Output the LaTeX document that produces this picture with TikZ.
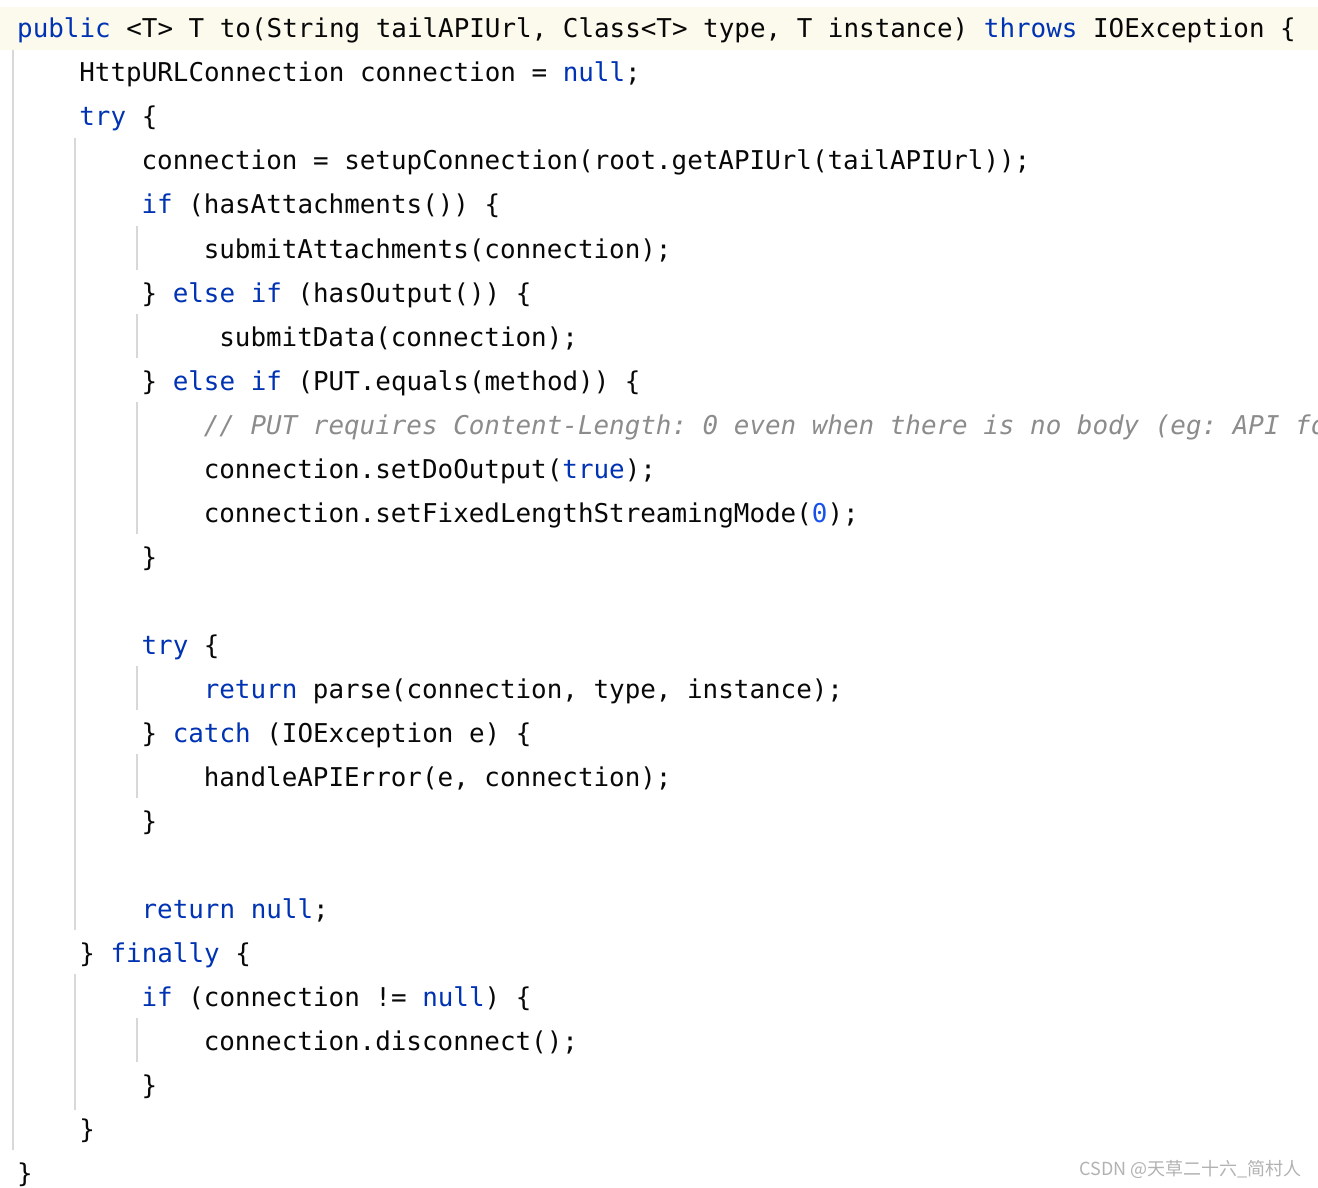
\documentclass[tikz,border=0pt]{standalone}
\usepackage{fontspec}
\setmonofont{DejaVu Sans Mono}
\newfontfamily\cjkf{Noto Sans CJK SC}
\definecolor{kwc}{HTML}{0033B3}
\definecolor{cmc}{HTML}{8C8C8C}
\definecolor{numc}{HTML}{1750EB}
\definecolor{txc}{HTML}{080808}
\definecolor{guide}{HTML}{D8D8D8}
\definecolor{hl}{HTML}{FCFAED}
\newcommand{\kw}[1]{\textcolor{kwc}{#1}}
\newcommand{\nmb}[1]{\textcolor{numc}{#1}}
\begin{document}
\begin{tikzpicture}[x=1pt,y=-1pt,
  code/.style={anchor=base west,inner sep=0pt,font=\fontsize{25.9}{30}\ttfamily,text=txc},
  gl/.style={draw=guide,line width=1.5pt}]
\useasboundingbox (0,0) rectangle (1318,1188);
\clip (0,0) rectangle (1318,1188);
\fill[hl] (0,7) rectangle (1318,50);
% indent guides
\draw[gl] (13,50) -- (13,1150);
\draw[gl] (75,138) -- (75,930);
\draw[gl] (75,974) -- (75,1110);
\draw[gl] (137,226) -- (137,270);
\draw[gl] (137,314) -- (137,358);
\draw[gl] (137,402) -- (137,534);
\draw[gl] (137,666) -- (137,710);
\draw[gl] (137,754) -- (137,798);
\draw[gl] (137,1018) -- (137,1062);
\def\cw{15.55}
\newcommand{\cl}[4]{\node[code] (#1) at ({17+\cw*#2},{38+44*#3}) {#4};}
\cl{l0}{0}{0}{\kw{public} <T> T to(String tailAPIUrl, Class<T> type, T instance) \kw{throws} IOException \{}
\cl{l1}{4}{1}{HttpURLConnection connection = \kw{null};}
\cl{l2}{4}{2}{\kw{try} \{}
\cl{l3}{8}{3}{connection = setupConnection(root.getAPIUrl(tailAPIUrl));}
\cl{l4}{8}{4}{\kw{if} (hasAttachments()) \{}
\cl{l5}{12}{5}{submitAttachments(connection);}
\cl{l6}{8}{6}{\} \kw{else} \kw{if} (hasOutput()) \{}
\cl{l7}{13}{7}{submitData(connection);}
\cl{l8}{8}{8}{\} \kw{else} \kw{if} (PUT.equals(method)) \{}
\cl{l9}{12}{9}{\textcolor{cmc}{\itshape // PUT requires Content-Length: 0 even when there is no body (eg: API fo}}
\cl{l10}{12}{10}{connection.setDoOutput(\kw{true});}
\cl{l11}{12}{11}{connection.setFixedLengthStreamingMode(\nmb{0});}
\cl{l12}{8}{12}{\}}
\cl{l14}{8}{14}{\kw{try} \{}
\cl{l15}{12}{15}{\kw{return} parse(connection, type, instance);}
\cl{l16}{8}{16}{\} \kw{catch} (IOException e) \{}
\cl{l17}{12}{17}{handleAPIError(e, connection);}
\cl{l18}{8}{18}{\}}
\cl{l20}{8}{20}{\kw{return} \kw{null};}
\cl{l21}{4}{21}{\} \kw{finally} \{}
\cl{l22}{8}{22}{\kw{if} (connection != \kw{null}) \{}
\cl{l23}{12}{23}{connection.disconnect();}
\cl{l24}{8}{24}{\}}
\cl{l25}{4}{25}{\}}
\cl{l26}{0}{26}{\}}
\node[anchor=base east,inner sep=0pt,text=black!30,font=\fontsize{18}{20}\cjkf] (wm) at (1302,1175) {CSDN @天草二十六\_简村人};
\end{tikzpicture}
\end{document}
